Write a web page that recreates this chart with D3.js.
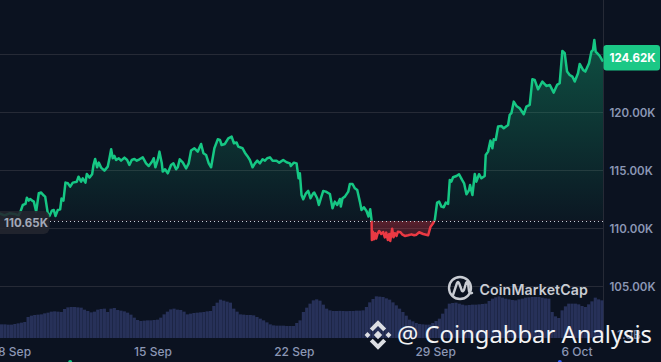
<!DOCTYPE html>
<html><head><meta charset="utf-8">
<script src="https://cdnjs.cloudflare.com/ajax/libs/d3/7.8.5/d3.min.js"></script>
<style>html,body{margin:0;padding:0;background:#0b1220;overflow:hidden}svg{display:block}</style>
</head><body><svg id="c" width="661" height="362"></svg>
<script>
// hours since 7 Sep 12:00 UTC
const hours=[0,5.9,11.9,17.8,22.6,24.9,27.7,30.9,32.5,34.8,36.4,38.8,40.8,43.6,46.7,49.5,52.7,54.3,57.4,59.4,62.2,64.5,66.5,69.3,72.1,73.7,76,78.4,81.2,84,87.1,91.9,93.9,97,99,102.2,103.8,106.9,110.1,111.7,113.7,116,118,120.8,124.7,128.7,130.7,132.7,134.6,136.6,138.6,141.8,144.5,148.5,151.7,154.4,157.2,160.4,163.2,166.3,170.3,174.2,177.4,181.4,183.3,185.3,188.1,190.1,192.9,194,196.8,200,203.9,206.7,209.9,211.9,214.2,217.8,221.8,224.9,227.7,231.7,235.6,239.6,242.4,245.5,248.7,251.5,255.4,259.4,
262,264,267.9,271.9,275.9,278.6,281.8,283.8,288.9,291.7,294.5,297.6,300.8,303.6,306.4,309.5,312.7,315.5,318.2,321.4,324.6,329.3,332.5,337.2,341.2,345.2,346.3,349.9,353.1,355.5,357,359,361,364.2,366.9,369.7,372.9,374.1,377.6,379.6,382,384.8,387.9,392.7,395.8,398.6,401.4,404.6,405.7,407.7,410.5,414.5,416.4,419.6,422.4,425.2,428.3,430.3,433.1,436.2,438.6,440.6,442.2,442.6,443.8,445,446.5,447.7,449.3,451.3,453.7,456,458,459.6,461.6,463.2,464.4,466.7,468.3,469.9,471.9,473.5,476.6,479,481.8,485.7,489.7,492.9,495.6,498.8,503.6,509.5,512.3,515.4,517.4,
520.1,522.5,525.3,528,530.4,533.2,535.2,537.1,539.1,543.1,546.2,549.8,552.2,555,558.1,559.3,562.1,564.9,566.8,570,572.8,576.7,577.9,580.7,583.5,585.8,587.4,589.8,592.6,596.5,599.3,604.5,606.4,608.4,611.2,614.4,618.3,623.1,626.2,630.2,633.4,636.1,640.1,645.2,650,654,658.7,662.7,665.8,669,671.8,674.6,677.7,680.9,683.7,687.6,689.6,693.6,696.3,700.7,703.5,705.4,707,708.6,713.4,717.3];
const prices=[111.29,111.12,111.29,111.24,111.12,111.44,112.01,112.1,112.64,112.39,112.53,112.39,112.3,111.44,113.02,113.08,112.82,112.73,111.29,111.06,111.52,111.58,111.06,111.58,111.64,112.56,112.39,113.94,113.88,113.59,113.94,114.02,114.45,114.02,114.31,113.94,114.68,114.37,114.66,115.46,115.98,115.26,115.66,115.23,114.97,115.32,116.04,116.81,116.04,116.24,115.89,116.04,115.83,116.09,115.89,115.46,115.89,115.98,115.83,115.95,116.12,115.6,115.37,115.75,116.04,115.26,115.89,116.61,115.6,114.89,115.09,114.74,115.46,115.6,115.09,115.26,115.95,115.69,115.17,115.6,116.7,116.9,116.61,117.27,116.47,116.32,115.6,115.26,116.9,117.67,
117.62,117.18,117.27,117.76,117.9,117.33,117.39,117.04,116.9,116.52,116.24,115.89,115.26,115.6,115.83,115.6,115.95,115.83,116.04,116.12,115.83,115.83,115.66,115.89,115.69,115.6,115.37,115.66,115.6,114.31,114.74,112.87,112.5,113.02,113.22,112.59,113.02,113.08,112.59,112.01,112.59,113.22,113.16,112.96,111.72,112.3,112.01,112.53,111.87,112.59,112.73,113.16,113.82,113.82,113.45,113.3,112.3,111.58,111.81,111.49,111.01,111.64,110.72,108.99,109.71,109.05,109.57,109.11,109.51,109.77,109.51,109.68,109.22,109.63,108.99,109.51,108.91,109.97,109.22,109.57,109.34,109.71,109.66,109.45,109.34,109.4,109.48,109.4,109.45,109.66,109.51,109.4,110.14,110.43,110.72,
112.21,112.3,111.87,111.81,112.21,112.1,114.17,114.02,114.4,114.51,114.66,114.17,113.88,112.93,113.3,113.74,112.87,114.68,114.02,114.66,114.31,114.51,116.32,116.61,117.56,116.9,117.67,117.62,118.77,118.82,118.62,118.91,119.77,119.92,120.92,120.55,120.35,119.83,120.49,120.63,122.85,122.79,121.98,122.65,122.27,122.36,121.7,122.36,122.5,125.29,125.09,123.51,123.22,123.08,122.65,123.36,124.17,123.65,123.51,124.23,125.23,125.38,126.24,125.23,124.86,124.37];
// volume, $B
const volumes=[27.3,27.3,26.7,26.7,28,29.3,30.7,32,42,44.7,46,46.7,47.3,49.3,50.7,52.7,53.3,52.7,52,58,61.3,62,62,61.3,60.7,56.7,54,51.3,52.7,56.7,58,58.7,52,58.7,60,56,54.7,53.3,50.7,46.7,40.7,36,34,34.7,35.3,35.3,36,36.7,40.7,47.3,52.7,57.3,58.7,56.7,56,52.7,47.3,48.7,50,50.7,51.3,52,53.3,54,64,70.7,76.7,74.7,72.7,70.7,58.7,52.7,47.3,46.7,46,46,45.3,42,38.7,35.3,31.3,27.3,25.3,24.7,24.7,24.7,24,24,24,30,35.3,52,60.7,68.7,75.3,77.3,74.7,66.7,58.7,55.3,
54,54,54.3,54,53.7,54,54,54.7,54.7,55.3,62,71.3,78,83.3,82.7,82,79.3,76.7,71.3,65.3,58.7,52,44.7,36.7,33.3,30,28,27.3,26.7,26.7,30,34,38.7,48.7,58.7,68.7,70,70.7,68.7,66.7,65.3,66,66.7,66.7,67.3,68,68.7,74,78.7,81.3,83.3,80.7,78.7,77.3,76,75.3,77.3,78.7,80.7,81.3,82,82,82,80.7,79.3,78.7,52,43.3,40,55.3,63.3,68.7,68.7,68.7,67.3,64,62,67.3,73.3,80.7,77.3,75.3];
const priceTicks=[125,120,115,110,105];
const priceLabels=["","120.00K","115.00K","110.00K","105.00K"];
const dateTicks=[[2025,8,8],[2025,8,15],[2025,8,22],[2025,8,29],[2025,9,6]];
const baselinePrice=110.65, lastPrice=124.62;
const eventDates=[[2025,8,11,0,"#16c784"],[2025,9,5,6,"#3861fb"]];

const BG="#0b1220",GREEN="#16c784",RED="#ea3943",GRID="#262a36",TXT="#8b97b5",FONT="Inter,'Noto Sans',sans-serif";
const svg=d3.select("#c");
svg.append("rect").attr("width",661).attr("height",362).attr("fill",BG);
const t0=Date.UTC(2025,8,7,12);
const data=hours.map((h,i)=>({t:new Date(t0+h*36e5),p:prices[i]}));
const x=d3.scaleUtc().domain([new Date(t0),new Date(t0+717.3*36e5)]).range([-0.5,603]);
const y=d3.scaleLinear().domain([105,125]).range([286.3,54.3]);
const yBase=y(baselinePrice);
const vy=d3.scaleLinear().domain([0,100]).range([338,288]);
const vx=d3.scaleBand().domain(d3.range(volumes.length)).range([0,603.5]).paddingInner(0.05);

const defs=svg.append("defs");
const gg=defs.append("linearGradient").attr("id","gg").attr("gradientUnits","userSpaceOnUse").attr("x1",0).attr("x2",0).attr("y1",y(126.3)).attr("y2",yBase);
gg.append("stop").attr("offset",0).attr("stop-color",GREEN).attr("stop-opacity",.34);
gg.append("stop").attr("offset",1).attr("stop-color",GREEN).attr("stop-opacity",.03);
const rg=defs.append("linearGradient").attr("id","rg").attr("gradientUnits","userSpaceOnUse").attr("x1",0).attr("x2",0).attr("y1",yBase).attr("y2",y(108.9));
rg.append("stop").attr("offset",0).attr("stop-color",RED).attr("stop-opacity",.36);
rg.append("stop").attr("offset",1).attr("stop-color",RED).attr("stop-opacity",.16);
defs.append("clipPath").attr("id","up").append("rect").attr("x",-2).attr("y",0).attr("width",605.5).attr("height",yBase);
defs.append("clipPath").attr("id","dn").append("rect").attr("x",-2).attr("y",yBase).attr("width",605.5).attr("height",362-yBase);

// grid
svg.append("g").selectAll("line").data(priceTicks).join("line")
 .attr("x1",0).attr("x2",603).attr("y1",d=>Math.round(y(d))+.5).attr("y2",d=>Math.round(y(d))+.5)
 .attr("stroke",GRID).attr("stroke-width",1);
svg.append("line").attr("x1",603.5).attr("x2",603.5).attr("y1",0).attr("y2",338).attr("stroke",GRID);

// volume
svg.append("g").selectAll("rect").data(volumes).join("rect")
 .attr("x",(d,i)=>vx(i)).attr("width",vx.bandwidth()).attr("y",d=>vy(d)).attr("height",d=>338-vy(d)).attr("fill","#273159");

// area & line
const area=d3.area().x(d=>x(d.t)).y0(yBase).y1(d=>y(d.p));
const line=d3.line().x(d=>x(d.t)).y(d=>y(d.p));
svg.append("path").datum(data).attr("d",area).attr("fill","url(#gg)").attr("clip-path","url(#up)");
svg.append("path").datum(data).attr("d",area).attr("fill","url(#rg)").attr("clip-path","url(#dn)");
svg.append("path").datum(data).attr("d",line).attr("fill","none").attr("stroke",GREEN).attr("stroke-width",2.5).attr("stroke-linejoin","round").attr("clip-path","url(#up)");
svg.append("path").datum(data).attr("d",line).attr("fill","none").attr("stroke",RED).attr("stroke-width",2.5).attr("stroke-linejoin","round").attr("clip-path","url(#dn)");

// baseline
svg.append("line").attr("x1",50).attr("x2",603).attr("y1",Math.round(yBase)+.5).attr("y2",Math.round(yBase)+.5)
 .attr("stroke","#c9ced8").attr("stroke-width",1).attr("stroke-dasharray","1 3");

// y labels
svg.append("g").selectAll("text").data(priceTicks.filter((d,i)=>priceLabels[i])).join("text")
 .attr("x",609.5).attr("y",d=>y(d)+.5).attr("dy","0.35em").attr("fill",TXT)
 .attr("font-family",FONT).attr("font-size",11.5).attr("font-weight",600)
 .text(d=>d3.format(".2f")(d)+"K");

// x labels
const xAxis=d3.axisBottom(x).tickValues(dateTicks.map(d=>new Date(Date.UTC(...d)))).tickSize(0).tickFormat(d3.utcFormat("%-d %b"));
const gx=svg.append("g").attr("transform","translate(1.5,347)").call(xAxis);
gx.select(".domain").remove();
gx.selectAll("text").attr("fill",TXT).attr("font-family",FONT).attr("font-size",12).attr("font-weight",500).attr("y",0).attr("dy","0.71em")
 .attr("dx",(d,i)=>i==0?3:0);

// event dots
svg.append("g").selectAll("circle").data(eventDates).join("circle")
 .attr("cx",d=>x(new Date(Date.UTC(d[0],d[1],d[2],d[3])))).attr("cy",362).attr("r",2).attr("fill",d=>d[4]);

// left label
svg.append("rect").attr("x",-6).attr("y",211).attr("width",55.5).attr("height",23).attr("rx",6).attr("fill","#23262f").attr("fill-opacity",.88);
svg.append("text").attr("x",4).attr("y",222.5).attr("dy","0.35em").attr("fill","#a3a9b8").attr("font-family",FONT).attr("font-size",11.5).attr("font-weight",700).text(d3.format(".2f")(baselinePrice)+"K");

// right label
svg.append("rect").attr("x",603.5).attr("y",45).attr("width",56.5).attr("height",25.5).attr("rx",3).attr("fill","#1bc886");
svg.append("text").attr("x",609.5).attr("y",58).attr("dy","0.35em").attr("fill","#fff").attr("font-family",FONT).attr("font-size",11.5).attr("font-weight",700).text(d3.format(".2f")(lastPrice)+"K");

// faint volume label
svg.append("text").attr("x",617).attr("y",339).attr("fill","#6f7a95").attr("font-family",FONT).attr("font-size",12).attr("font-weight",500).text("1.0B");

// CoinMarketCap logo
const cmc=svg.append("g").attr("fill","none").attr("stroke","#c9ccd3").attr("stroke-width",2.4).attr("stroke-linecap","round").attr("stroke-linejoin","round");
cmc.append("circle").attr("cx",460).attr("cy",288).attr("r",11);
cmc.append("path").attr("d","M453 295 L457 283 Q458 281 459 283 L462 291 Q463 292 464 290 L466 283 Q467 281 468 283 L469 291 Q470 294 472 293");
svg.append("text").attr("x",479.5).attr("y",295).attr("fill","#c9ccd3").attr("font-family","Inter,sans-serif").attr("font-size",14.2).attr("font-weight",600).attr("letter-spacing",.1).text("CoinMarketCap");

// Coingabbar watermark
const bn=svg.append("g").attr("transform","translate(378,335) scale(1.05)").attr("fill","#dcdee3");
bn.append("path").attr("d","M0 -4L4 0L0 4L-4 0Z");
bn.append("path").attr("d","M-10 -2.8L-7.2 0L-10 2.8L-12.8 0Z");
bn.append("path").attr("d","M10 -2.8L12.8 0L10 2.8L7.2 0Z");
bn.append("path").attr("d","M0 -14L7.8 -6.2L5 -3.6L0 -8.6L-5 -3.6L-7.8 -6.2Z");
bn.append("path").attr("d","M0 14L7.8 6.2L5 3.6L0 8.6L-5 3.6L-7.8 6.2Z");
svg.append("text").attr("x",397).attr("y",343).attr("fill","#f2f3f5").attr("font-family","'Noto Sans',sans-serif").attr("font-size",23.8).text("@ Coingabbar Analysis");
</script></body></html>
